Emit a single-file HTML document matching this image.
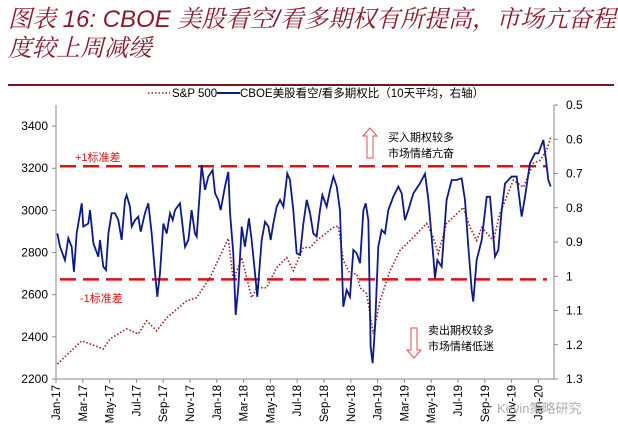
<!DOCTYPE html>
<html><head><meta charset="utf-8"><style>
body{margin:0;background:#fff;width:618px;height:436px;overflow:hidden;font-family:"Liberation Sans","Noto Sans CJK SC",sans-serif}
#title{position:absolute;left:8px;top:5px;width:610px;font-size:24px;line-height:29px;color:#8b1a2b;font-style:italic;white-space:nowrap;font-family:"Liberation Sans","Noto Serif CJK SC",sans-serif}
#rule{position:absolute;left:8px;top:84px;width:606px;height:2px;background:#7b1320}
</style></head><body>
<div id="title">图表 16: CBOE 美股看空/看多期权有所提高，市场亢奋程<br>度较上周减缓</div>
<div id="rule"></div>
<svg id="chart" width="618" height="436" style="position:absolute;left:0;top:0"></svg>
<script>
const monthLabels=["Jan-17","Mar-17","May-17","Jul-17","Sep-17","Nov-17","Jan-18","Mar-18","May-18","Jul-18","Sep-18","Nov-18","Jan-19","Mar-19","May-19","Jul-19","Sep-19","Nov-19","Jan-20"];
const leftTicks=[2200,2400,2600,2800,3000,3200,3400];
const rightTicks=[0.5,0.6,0.7,0.8,0.9,1,1.1,1.2,1.3];
const spxMonths=[0.1,1.92,3.53,4.03,5.27,6.14,6.77,7.51,8.26,9.75,10.5,11.49,12.86,13.23,13.86,14.6,14.98,15.72,16.47,17.21,17.71,18.46,18.96,19.45,20.7,21.07,21.44,21.94,22.44,22.69,23.18,23.68,24.18,24.93,25.67,26.42,27.66,28.16,28.53,29.15,30.4,30.9,31.39,31.77,32.64,33.13,34.13,34.88,35.62,36.12,36.62,36.92];
const spxValues=[2271,2381,2343,2390,2438,2414,2476,2429,2490,2571,2586,2681,2867,2667,2776,2586,2633,2633,2729,2776,2714,2824,2824,2857,2919,2926,2762,2700,2700,2633,2605,2414,2571,2714,2810,2857,2938,2871,2795,2938,3014,2919,2857,2919,2857,2986,3143,3110,3224,3238,3286,3348];
const pcMonths=[0.1,0.3,0.67,0.92,1.17,1.34,1.54,1.92,2.04,2.41,2.54,2.79,3.16,3.28,3.53,3.73,3.91,4.15,4.4,4.65,4.9,5.15,5.27,5.52,5.65,5.9,6.14,6.32,6.64,6.89,7.14,7.39,7.56,7.76,8.01,8.26,8.51,8.71,8.88,9.25,9.63,9.88,10.12,10.37,10.5,10.87,11.12,11.37,11.69,11.87,12.11,12.29,12.61,12.86,12.99,13.23,13.41,13.61,13.86,14.1,14.4,14.6,14.85,15.02,15.35,15.6,15.85,16.02,16.22,16.47,16.72,16.97,17.26,17.46,17.71,17.96,18.21,18.46,18.71,18.96,19.2,19.45,19.7,19.88,20.2,20.45,20.7,20.95,21.19,21.44,21.69,21.94,22.19,22.44,22.69,22.94,23.11,23.31,23.48,23.63,23.81,24.05,24.3,24.55,24.8,25.17,25.55,25.8,26.04,26.29,26.67,27.16,27.54,27.79,28.16,28.28,28.46,28.78,29.15,29.53,29.9,30.27,30.52,30.77,31.02,31.14,31.39,31.77,32.14,32.39,32.76,33.01,33.26,33.51,33.76,34.0,34.38,34.75,35.0,35.37,35.75,36.0,36.37,36.57,36.74,36.92];
const pcValues=[0.875,0.914,0.953,0.889,0.914,0.987,0.875,0.787,0.855,0.846,0.807,0.904,0.943,0.894,0.972,0.982,0.875,0.816,0.816,0.836,0.894,0.777,0.763,0.797,0.855,0.836,0.826,0.870,0.816,0.787,0.875,0.991,1.060,0.991,0.846,0.875,0.816,0.836,0.807,0.787,0.914,0.894,0.807,0.875,0.884,0.675,0.748,0.709,0.690,0.758,0.777,0.807,0.738,0.695,0.816,0.933,1.113,1.030,0.855,0.914,0.831,0.894,0.991,1.060,0.894,0.841,0.855,0.894,0.846,0.797,0.777,0.797,0.700,0.719,0.807,0.933,0.938,0.846,0.777,0.816,0.875,0.884,0.807,0.763,0.797,0.748,0.709,0.738,0.807,1.089,1.040,1.060,0.923,0.933,0.962,0.807,0.787,0.836,1.206,1.254,1.147,0.914,0.865,0.875,0.807,0.768,0.738,0.758,0.836,0.807,0.758,0.729,0.701,0.777,0.943,1.006,0.953,0.972,0.777,0.719,0.719,0.714,0.777,0.914,1.040,1.074,0.953,0.894,0.768,0.768,0.943,0.923,0.807,0.729,0.719,0.709,0.709,0.826,0.768,0.670,0.641,0.641,0.602,0.661,0.719,0.738];
const plusSD=0.679, minusSD=1.009;
const NS="http://www.w3.org/2000/svg", svg=document.getElementById('chart');
const X0=56,PM=13.4,YB=379,YT=105,XR=554;
const xs=m=>X0+m*PM, yl=v=>YB-(v-2200)/1300*(YB-YT), yr=v=>YT+(v-0.5)/0.8*(YB-YT);
function el(t,a,txt){const e=document.createElementNS(NS,t);for(const k in a)e.setAttribute(k,a[k]);if(txt!=null)e.textContent=txt;svg.appendChild(e);return e;}
let e;
e=el('line',{x1:X0,y1:YT,x2:X0,y2:YB,stroke:'#888'});


e=el('line',{x1:XR,y1:YT,x2:XR,y2:YB,stroke:'#888'});


e=el('line',{x1:X0,y1:YB,x2:XR,y2:YB,stroke:'#888'});


leftTicks.forEach(v=>{el('line',{x1:X0-4,y1:yl(v),x2:X0,y2:yl(v),stroke:'#888'});
e=el('text',{x:X0-8,y:yl(v)+4,'text-anchor':'end','font-size':12,fill:'#000'},v);

});
rightTicks.forEach(v=>{el('line',{x1:XR,y1:yr(v),x2:XR+4,y2:yr(v),stroke:'#888'});
e=el('text',{x:XR+12,y:yr(v)+4,'font-size':12,fill:'#000'},String(v));

});
monthLabels.forEach((l,i)=>{const x=xs(i*2);el('line',{x1:x,y1:YB,x2:x,y2:YB+4,stroke:'#888'});
e=el('text',{x:0,y:0,'text-anchor':'end','font-size':11.5,fill:'#000',transform:`translate(${x+4},${YB+6}) rotate(-90)`},l);

});
[[plusSD,'+1标准差',75,161],[minusSD,'-1标准差',80,302]].forEach(([v,t,tx,ty])=>{
e=el('line',{x1:60,y1:yr(v),x2:547,y2:yr(v),stroke:'#e01010','stroke-width':2.5,'stroke-dasharray':'16,7'});


e=el('text',{x:tx,y:ty,'font-size':11,fill:'#e01010'},t);

});
e=el('polyline',{points:spxMonths.map((m,i)=>xs(m)+','+yl(spxValues[i])).join(' '),fill:'none',stroke:'#9b1b1b','stroke-width':1.6,'stroke-dasharray':'1.5,2'});


e=el('polyline',{points:pcMonths.map((m,i)=>xs(m)+','+yr(pcValues[i])).join(' '),fill:'none',stroke:'#0d1a8a','stroke-width':1.8});


e=el('path',{d:'M370,128 l-7,8 h4 v22 h6 v-22 h4 z',fill:'#fff',stroke:'#e05050'});


e=el('path',{d:'M414,358 l-7,-8 h4 v-22 h6 v22 h4 z',fill:'#fff',stroke:'#e05050'});


[['买入期权较多',388,141],['市场情绪亢奋',388,157],['卖出期权较多',428,334],['市场情绪低迷',428,350]].forEach(([t,x,y])=>{
e=el('text',{x:x,y:y,'font-size':11,fill:'#000'},t);

});
e=el('line',{x1:148,y1:93,x2:170,y2:93,stroke:'#9b1b1b','stroke-width':1.6,'stroke-dasharray':'1.5,2'});


e=el('text',{x:172,y:97,'font-size':11.5,fill:'#000'},'S&P 500');


e=el('line',{x1:217,y1:93,x2:240,y2:93,stroke:'#0d1a8a','stroke-width':2});


e=el('text',{x:240,y:97,'font-size':11.5,fill:'#000'},'CBOE美股看空/看多期权比（10天平均，右轴）');


e=el('text',{x:497,y:413,'font-size':13,fill:'#999','opacity':0.8},'Kevin策略研究');


</script>
</body></html>
